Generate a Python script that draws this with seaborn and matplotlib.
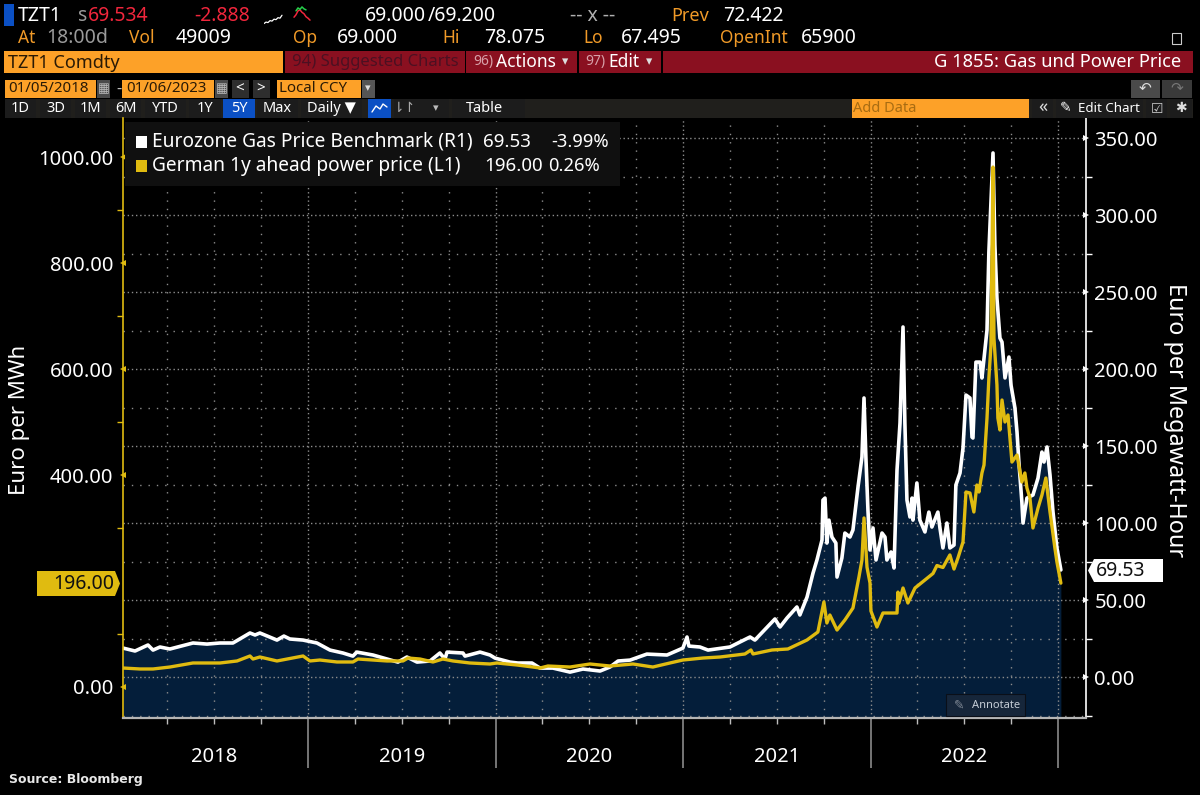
import matplotlib
matplotlib.use("Agg")
import matplotlib.pyplot as plt
from matplotlib.lines import Line2D
from matplotlib.patches import Rectangle, Polygon
import seaborn as sns

# decimal years / Euro per Megawatt-Hour (right axis)
gas_x = [2018.013, 2018.077, 2018.146, 2018.173, 2018.210, 2018.263, 2018.386, 2018.461, 2018.530, 2018.599,
         2018.690, 2018.717, 2018.743, 2018.834, 2018.871, 2018.903, 2018.973, 2019.047, 2019.117, 2019.186,
         2019.239, 2019.260, 2019.346, 2019.421, 2019.479, 2019.527, 2019.581, 2019.650, 2019.703, 2019.730,
         2019.741, 2019.826, 2019.837, 2019.917, 2019.970, 2019.997, 2020.077, 2020.119, 2020.194, 2020.237,
         2020.306, 2020.397, 2020.466, 2020.557, 2020.610, 2020.653, 2020.717, 2020.807, 2020.914, 2020.999,
         2021.021, 2021.031, 2021.090, 2021.133, 2021.250, 2021.357, 2021.383, 2021.490, 2021.517, 2021.554,
         2021.607, 2021.623, 2021.661, 2021.693, 2021.714, 2021.741, 2021.746, 2021.757, 2021.767, 2021.778,
         2021.794, 2021.815, 2021.821, 2021.847, 2021.863, 2021.890, 2021.906, 2021.933, 2021.954, 2021.965,
         2021.975, 2021.986, 2021.997, 2022.013, 2022.029, 2022.061, 2022.077, 2022.087, 2022.109, 2022.125,
         2022.141, 2022.157, 2022.173, 2022.183, 2022.194, 2022.210, 2022.221, 2022.226, 2022.247, 2022.263,
         2022.290, 2022.311, 2022.327, 2022.359, 2022.370, 2022.386, 2022.407, 2022.423, 2022.445, 2022.455,
         2022.477, 2022.493, 2022.509, 2022.530, 2022.541, 2022.546, 2022.562, 2022.584, 2022.594, 2022.605,
         2022.621, 2022.631, 2022.653, 2022.663, 2022.674, 2022.690, 2022.701, 2022.717, 2022.738, 2022.749,
         2022.770, 2022.781, 2022.791, 2022.807, 2022.813, 2022.834, 2022.866, 2022.893, 2022.914, 2022.925,
         2022.941, 2022.957, 2022.973, 2022.994, 2023.015]
gas_y = [18.8, 16.9, 20.8, 17.5, 19.5, 18.2, 22.1, 21.4, 22.1, 22.1,
         28.6, 27.3, 28.6, 24.0, 26.6, 24.7, 24.0, 22.1, 17.5, 15.6,
         13.6, 16.2, 14.3, 11.7, 9.7, 13.0, 9.7, 10.4, 15.6, 11.7,
         16.2, 15.6, 13.6, 16.2, 14.3, 12.3, 9.7, 9.1, 9.1, 5.8,
         5.8, 3.2, 5.2, 3.9, 6.5, 10.4, 11.0, 14.9, 14.3, 18.8,
         26.0, 20.1, 19.5, 17.5, 19.5, 26.0, 24.0, 37.7, 32.5, 38.3,
         45.5, 40.3, 51.9, 67.5, 76.0, 89.0, 114.9, 116.2, 87.0, 101.9,
         90.9, 87.0, 64.9, 77.3, 93.5, 90.9, 95.5, 123.4, 142.9, 181.2,
         142.9, 108.4, 82.5, 96.8, 76.0, 93.5, 90.9, 76.0, 81.2, 70.8,
         134.4, 164.9, 227.3, 164.9, 114.9, 103.9, 116.2, 101.9, 126.0, 101.9,
         94.2, 107.1, 97.4, 107.1, 96.8, 83.8, 100.0, 83.8, 85.7, 124.7,
         132.5, 148.7, 183.1, 181.2, 155.8, 155.2, 204.5, 204.5, 194.2, 207.1,
         225.3, 276.0, 340.3, 280.5, 246.1, 220.1, 217.5, 194.2, 207.8, 189.6,
         174.7, 159.1, 139.6, 113.6, 100.0, 116.2, 118.2, 129.2, 146.1, 139.6,
         149.4, 131.2, 107.1, 83.8, 69.53]

# decimal years / Euro per MWh (left axis)
power_x = [2018.013, 2018.103, 2018.173, 2018.263, 2018.386, 2018.530, 2018.621, 2018.690, 2018.706, 2018.743,
           2018.834, 2018.973, 2019.010, 2019.063, 2019.154, 2019.239, 2019.266, 2019.421, 2019.506, 2019.533,
           2019.597, 2019.666, 2019.719, 2019.773, 2019.863, 2019.970, 2020.007, 2020.114, 2020.199, 2020.237,
           2020.279, 2020.397, 2020.503, 2020.610, 2020.733, 2020.839, 2020.930, 2020.999, 2021.106, 2021.197,
           2021.330, 2021.362, 2021.373, 2021.474, 2021.559, 2021.661, 2021.719, 2021.751, 2021.767, 2021.783,
           2021.821, 2021.863, 2021.906, 2021.938, 2021.954, 2021.965, 2021.981, 2021.997, 2022.002, 2022.034,
           2022.066, 2022.141, 2022.146, 2022.151, 2022.173, 2022.199, 2022.237, 2022.333, 2022.354, 2022.386,
           2022.423, 2022.445, 2022.466, 2022.493, 2022.509, 2022.530, 2022.551, 2022.567, 2022.578, 2022.594,
           2022.605, 2022.621, 2022.631, 2022.642, 2022.653, 2022.658, 2022.674, 2022.679, 2022.690, 2022.701,
           2022.717, 2022.733, 2022.754, 2022.781, 2022.807, 2022.823, 2022.834, 2022.850, 2022.866, 2022.893,
           2022.914, 2022.935, 2022.957, 2022.983, 2022.994, 2023.015]
power_y = [35.8, 34.0, 34.0, 37.7, 45.3, 45.3, 49.1, 58.5, 52.8, 56.6,
           49.1, 58.5, 49.1, 50.9, 47.2, 47.2, 52.8, 49.1, 49.1, 54.7,
           52.8, 47.2, 52.8, 49.1, 45.3, 43.4, 45.3, 41.5, 37.7, 35.8,
           39.6, 37.7, 43.4, 39.6, 43.4, 37.7, 45.3, 50.9, 54.7, 56.6,
           62.3, 69.8, 62.3, 69.8, 71.7, 88.7, 103.8, 160.4, 120.8, 135.8,
           107.5, 126.4, 149.0, 207.5, 239.6, 318.9, 226.0, 196.2, 143.4, 113.2,
           139.6, 139.6, 179.0, 158.0, 186.8, 158.5, 186.8, 214.2, 229.2, 225.5,
           249.1, 222.6, 243.4, 273.6, 367.9, 366.0, 330.2, 381.1, 367.9, 403.8,
           418.9, 507.5, 583.0, 643.4, 981.0, 658.5, 569.8, 507.5, 484.9, 541.5,
           500.0, 513.2, 424.5, 437.7, 386.8, 403.8, 375.5, 356.6, 300.0, 337.7,
           362.3, 394.3, 330.2, 262.3, 235.8, 196.0]

year_labels = [2018, 2019, 2020, 2021, 2022]
year_edges = [2019, 2020, 2021, 2022, 2023]
quarter_ticks = [2018.25, 2018.5, 2018.75, 2019.25, 2019.5, 2019.75, 2020.25, 2020.5, 2020.75,
                 2021.25, 2021.5, 2021.75, 2022.25, 2022.5, 2022.75]
left_ticks = [0, 200, 400, 600, 800, 1000]
left_labels = ["0.00", "", "400.00", "600.00", "800.00", "1000.00"]
left_minor = [100, 300, 500, 700, 900]
right_ticks = [0, 50, 100, 150, 200, 250, 300, 350]
right_minor = [-25, 25, 75, 125, 175, 225, 275, 325]

spark_white = [1.0, 1.6, 1.4, 2.2, 2.0, 2.8, 2.6, 3.4, 3.2, 4.4]
spark_red = [3.6, 4.6, 6.2, 6.6, 5.6, 5.0, 3.8, 3.2, 2.4]
spark_green = [6.2, 7.4, 6.8, 7.8, 7.0, 6.6]

BLACK = "#000000"
YELLOW = "#e0bb10"
NAVY = "#041e3a"
ORANGE = "#fda128"
AMBER = "#f09a28"
DARKRED = "#8a1020"
GRID = "#8c8c8c"
W, H = 1200, 795

sns.set_theme(style="dark", rc={"figure.facecolor": BLACK, "axes.facecolor": BLACK, "savefig.facecolor": BLACK})
plt.rcParams["font.family"] = ["Noto Sans", "DejaVu Sans"]

fig = plt.figure(figsize=(12, 7.95), dpi=100)
ax = fig.add_axes([123 / W, 1 - 718 / H, (1086 - 123) / W, 600 / H])
ax2 = ax.twinx()
ax.set_zorder(2)
ax2.set_zorder(1)
ax.patch.set_visible(False)
ax2.patch.set_facecolor(BLACK)


def txt(x, y, s, color="white", size=14, ha="left", **kw):
    fig.text(x / W, 1 - y / H, s, color=color, fontsize=size, ha=ha, va="center", **kw)


def box(x0, y0, x1, y1, color, edge="none", z=1):
    fig.add_artist(Rectangle((x0 / W, 1 - y1 / H), (x1 - x0) / W, (y1 - y0) / H, transform=fig.transFigure,
                             facecolor=color, edgecolor=edge, linewidth=0.8, zorder=z))


def poly(points, color):
    fig.add_artist(Polygon([(x / W, 1 - y / H) for x, y in points], closed=True, transform=fig.transFigure,
                           facecolor=color, edgecolor="none", zorder=5))


# chart
ax2.fill_between(gas_x, gas_y, -30, color=NAVY, linewidth=0, zorder=1)
sns.lineplot(x=gas_x, y=gas_y, ax=ax2, color="white", linewidth=2.6, estimator=None, errorbar=None, sort=False, zorder=3)
sns.lineplot(x=power_x, y=power_y, ax=ax, color=YELLOW, linewidth=2.4, estimator=None, errorbar=None, sort=False, zorder=4)

ax.set_xlim(2018.0128, 2023.149)
ax.set_ylim(-58.5, 1073.6)
ax2.set_ylim(-26.6, 363)

ax2.xaxis.set_visible(True)
ax2.set_axisbelow(False)
ax2.set_xticks(year_edges)
ax2.set_xticks(quarter_ticks, minor=True)
ax2.tick_params(axis="x", which="both", length=0, labelbottom=False, labeltop=False)
ax2.set_yticks(right_ticks)
ax2.set_yticks(right_minor, minor=True)
ax2.set_yticklabels([f"{v:.2f}" for v in right_ticks], color="white", fontsize=14.5)
ax2.grid(True, which="major", color=GRID, linestyle=(0, (1, 2)), linewidth=1)
ax2.grid(True, which="minor", color=GRID, linestyle=(0, (1, 5)), linewidth=1)
ax2.tick_params(axis="y", which="major", length=0, pad=6, right=True)
ax2.tick_params(axis="y", which="minor", length=4, width=1, color="white", right=True)
ax2.set_ylabel("Euro per Megawatt-Hour", color="white", fontsize=16.8, rotation=270)
ax2.yaxis.set_label_coords(1.105, 0.497)

ax.set_xticks(year_edges)
ax.set_xticks(quarter_ticks, minor=True)
ax.set_xticklabels([])
ax.tick_params(axis="x", which="major", length=36, width=1.2, color="#8a8a8a", bottom=True)
ax.tick_params(axis="x", which="minor", length=4, width=1, color="#bdbdbd", bottom=True)
ax.set_yticks(left_ticks)
ax.set_yticks(left_minor, minor=True)
ax.set_yticklabels(left_labels, color="white", fontsize=14.5)
ax.tick_params(axis="y", which="major", length=0, pad=7, left=True)
ax.tick_params(axis="y", which="minor", length=4, width=1, color=YELLOW, left=True)
ax.set_ylabel("Euro per MWh", color="white", fontsize=16)
ax.yaxis.set_label_coords(-0.0965, 0.497)
ax.grid(False)

for spine in ax.spines.values():
    spine.set_visible(False)
for spine in ax2.spines.values():
    spine.set_visible(False)
ax.spines["left"].set_visible(True)
ax.spines["left"].set_color(YELLOW)
ax.spines["left"].set_linewidth(1.2)
ax.spines["bottom"].set_visible(True)
ax.spines["bottom"].set_color("#b5b5b5")
ax.spines["bottom"].set_linewidth(1.6)
ax2.spines["right"].set_visible(True)
ax2.spines["right"].set_color("white")
ax2.spines["right"].set_linewidth(1.2)

# little triangles in place of the major ticks
ax.plot([0] * 5, [0, 400, 600, 800, 1000], transform=ax.get_yaxis_transform(), linestyle="none", marker="<",
        markersize=4.5, color=YELLOW, clip_on=False, markeredgewidth=0)
ax2.plot([1] * len(right_ticks), right_ticks, transform=ax2.get_yaxis_transform(), linestyle="none", marker=">",
         markersize=4.5, color="white", clip_on=False, markeredgewidth=0)

for year in year_labels:
    ax.text(year + 0.5, -0.065, str(year), transform=ax.get_xaxis_transform(), color="white", fontsize=14.5,
            ha="center", va="center")

# last value tags
poly([(37, 571), (115, 571), (120, 583.5), (115, 596), (37, 596)], YELLOW)
txt(114, 584, "196.00", color="#111111", size=14, ha="right", zorder=6)
poly([(1094, 559), (1163, 559), (1163, 582), (1094, 582), (1088, 570.5)], "white")
txt(1096, 571, "69.53", color="#111111", size=14, zorder=6)

# legend
box(125, 122, 620, 186, "#101010", z=6)
box(136, 136, 147, 148, "white", z=7)
box(136, 160, 147, 172, YELLOW, z=7)
txt(152, 142, "Eurozone Gas Price Benchmark (R1)", size=13.8, zorder=7)
txt(483, 142, "69.53", size=13.5, zorder=7)
txt(609, 142, "-3.99%", size=13.2, ha="right", zorder=7)
txt(152, 166, "German 1y ahead power price (L1)", size=13.8, zorder=7)
txt(484, 166, "196.00", size=13.5, zorder=7)
txt(600, 166, "0.26%", size=13.2, ha="right", zorder=7)

# annotate button
box(946, 694, 1025, 716, "#16263a", edge="#0a0f18", z=6)
txt(972, 705, "Annotate", color="#c4ccd6", size=8, zorder=7)
txt(959, 705, "✎", color="#7f8894", size=9, ha="center", zorder=7, family="DejaVu Sans")

# header rows
box(4, 4, 14, 26, "#0b50c4")
txt(18, 16, "TZT1")
txt(78, 16, "s", color="#9a9a9a")
txt(88, 16, "69.534", color="#f0263c")
txt(194, 16, "-2.888", color="#f0263c")
txt(365, 16, "69.000")
txt(428, 16, "/69.200")
txt(570, 16, "-- x --", color="#b0b0b0")
txt(671, 16, "Prev", color=AMBER, size=13)
txt(723, 16, "72.422")

row2 = [(18, "At", AMBER), (46, "18:00d", "#9a9a9a"), (129, "Vol", AMBER), (176, "49009", "white"),
        (293, "Op", AMBER), (337, "69.000", "white"), (442, "Hi", AMBER), (484, "78.075", "white"),
        (583, "Lo", AMBER), (621, "67.495", "white"), (720, "OpenInt", AMBER), (801, "65900", "white")]
for x, s, c in row2:
    txt(x, 38, s, color=c, size=12.5 if c == AMBER else 14)

box(4, 51, 283, 73, ORANGE)
txt(8, 63, "TZT1 Comdty", color="#2a1a05", size=13)
box(285, 51, 465, 73, DARKRED)
txt(292, 62, "94) Suggested Charts", color="#4c1022", size=12)
box(466, 51, 577, 73, DARKRED)
txt(473, 62, "96)", color="#d7a0a8", size=10)
txt(496, 62, "Actions", size=12.5)
txt(562, 62, "▾", color="#dddddd", size=9)
box(579, 51, 661, 73, DARKRED)
txt(585, 62, "97)", color="#d7a0a8", size=10)
txt(608, 62, "Edit", size=12.5)
txt(646, 62, "▾", color="#dddddd", size=9)
box(663, 51, 1193, 73, DARKRED)
txt(1181, 62, "G 1855: Gas und Power Price", size=13.2, ha="right")

box(5, 80, 96, 98, ORANGE)
txt(8, 89, "01/05/2018", color="#2a1a05", size=10.9)
box(97, 80, 110, 98, "#4a4a4a")
txt(103.5, 89, "▦", color="#bbbbbb", size=9, ha="center", family="DejaVu Sans")
txt(116, 89, "-", color="#bbbbbb", size=12)
box(122, 80, 214, 98, ORANGE)
txt(126, 89, "01/06/2023", color="#2a1a05", size=10.9)
box(215, 80, 228, 98, "#4a4a4a")
txt(221.5, 89, "▦", color="#bbbbbb", size=9, ha="center", family="DejaVu Sans")
box(232, 80, 249, 98, "#2e2e2e")
txt(240, 89, "<", size=11, ha="center")
box(253, 80, 270, 98, "#2e2e2e")
txt(261, 89, ">", size=11, ha="center")
box(277, 80, 361, 98, ORANGE)
txt(279, 89, "Local CCY", color="#2a1a05", size=10.8)
box(362, 80, 375, 98, "#555555")
txt(368, 89, "▾", color="#dddddd", size=8, ha="center")
box(1131, 80, 1160, 98, "#4a4a4a")
txt(1145, 89, "↶", color="#dddddd", size=11, ha="center")
box(1162, 80, 1192, 98, "#3a3a3a")
txt(1177, 89, "↷", color="#777777", size=11, ha="center")

box(5, 99, 1193, 118, "#201f1c")
buttons = [(5, 36, "1D"), (40, 71, "3D"), (75, 106, "1M"), (110, 141, "6M"), (145, 186, "YTD"), (189, 221, "1Y"),
           (223, 255, "5Y"), (257, 298, "Max"), (301, 362, "Daily ▼")]
for x0, x1, s in buttons:
    box(x0, 99, x1, 118, "#0b50c4" if s == "5Y" else "#1c1c1c", z=2)
    txt((x0 + x1) / 2, 108.5, s, size=10.5, ha="center", zorder=3)
box(368, 99, 391, 118, "#0b50c4", z=2)
fig.add_artist(Line2D([372 / W, 376 / W, 380 / W, 383 / W, 387 / W],
                      [1 - 112 / H, 1 - 106 / H, 1 - 109 / H, 1 - 104 / H, 1 - 107 / H],
                      color="white", linewidth=1, zorder=3))
box(394, 99, 449, 118, "#1c1c1c", z=2)
txt(404, 108.5, "⇂↾", color="#aaaaaa", size=10, ha="center", zorder=3, family="DejaVu Sans")
txt(436, 108.5, "▾", color="#bbbbbb", size=8, ha="center", zorder=3)
box(452, 99, 525, 118, "#1c1c1c", z=2)
txt(484, 108.5, "Table", size=10.5, ha="center", zorder=3)
box(852, 99, 1029, 118, ORANGE, z=2)
txt(853, 108.5, "Add Data", color="#a86c12", size=10.5, zorder=3)
box(1032, 99, 1053, 118, "#1c1c1c", z=2)
txt(1043, 107, "«", color="#dddddd", size=13, ha="center", zorder=3)
box(1056, 99, 1143, 118, "#1c1c1c", z=2)
txt(1078, 108.5, "Edit Chart", size=9.6, zorder=3)
txt(1066, 108.5, "✎", size=10, ha="center", zorder=3, family="DejaVu Sans")
box(1146, 99, 1167, 118, "#1c1c1c", z=2)
txt(1157, 108.5, "☑", color="#cccccc", size=10, ha="center", zorder=3, family="DejaVu Sans")
box(1170, 99, 1192, 118, "#1c1c1c", z=2)
txt(1181, 108.5, "✱", color="#dddddd", size=10, ha="center", zorder=3, family="DejaVu Sans")
box(1172, 33, 1181, 44, BLACK, edge="#cccccc")

# sparkline in the header
spark = fig.add_axes([264 / W, 1 - 26 / H, 56 / W, 22 / H])
spark.axis("off")
spark.set_xlim(0, 28)
spark.set_ylim(0, 9)
sns.lineplot(x=list(range(10)), y=spark_white, ax=spark, color="white", linewidth=0.9, errorbar=None)
sns.lineplot(x=list(range(15, 24)), y=spark_red, ax=spark, color="#f0263c", linewidth=1.1, errorbar=None)
sns.lineplot(x=list(range(16, 22)), y=spark_green, ax=spark, color="#25d04a", linewidth=1.1, errorbar=None)

txt(9, 779, "Source: Bloomberg", color="#e8e8e8", size=9, weight="bold", family="DejaVu Sans")

fig.savefig("out.png", dpi=100, facecolor=BLACK)
